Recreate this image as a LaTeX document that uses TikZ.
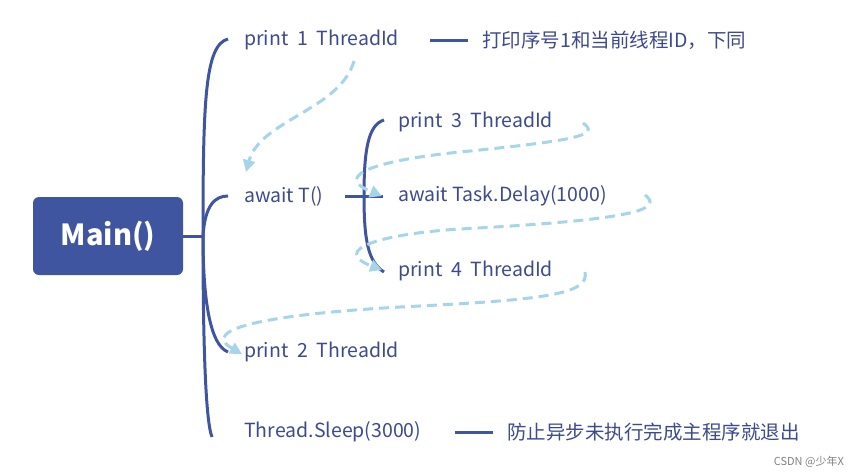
\documentclass[tikz,border=0pt]{standalone}
\usepackage{fontspec}
\setmainfont{Noto Sans CJK SC}
\usetikzlibrary{arrows.meta}
\definecolor{dk}{HTML}{3F55A0}
\definecolor{lb}{HTML}{A6D4EA}
\definecolor{tx}{HTML}{3D4A8C}
\begin{document}
\begin{tikzpicture}[x=1pt,y=-1pt,
  lbl/.style={anchor=west,inner sep=0pt,text=tx,font=\fontsize{19.5}{22}\selectfont},
  br/.style={draw=dk,line width=3pt},
  dsh/.style={draw=lb,line width=3pt,dash pattern=on 10pt off 6pt,-{Triangle[length=12pt,width=12pt]}}]
\useasboundingbox (0,0) rectangle (848,472);
\node[fill=dk,rounded corners=6pt,minimum width=150pt,minimum height=78pt,text=white,font=\fontsize{29}{32}\selectfont\bfseries] (main) at (108,236) {Main()};
\node[lbl] (p1) at (244,40) {print\ \ 1\ \ ThreadId};
\node[lbl] (aw) at (244,196) {await T()};
\node[lbl] (p2) at (244,352) {print\ \ 2\ \ ThreadId};
\node[lbl] (ts) at (244,432) {Thread.Sleep(3000)};
\node[lbl] (p3) at (398,122) {print\ \ 3\ \ ThreadId};
\node[lbl] (td) at (398,196) {await Task.Delay(1000)};
\node[lbl] (p4) at (398,271) {print\ \ 4\ \ ThreadId};
\node[lbl] (n1) at (482,40) {打印序号1和当前线程ID，下同};
\node[lbl] (n2) at (507,432) {防止异步未执行完成主程序就退出};
\coordinate (j) at (203,236);
\draw[br] (main.east) -- (j);
\draw[br] (j) .. controls (203,100) and (205,45) .. (228,39);
\draw[br] (j) .. controls (205,205) and (215,196) .. (228,196);
\draw[br] (j) .. controls (203,300) and (210,345) .. (228,352);
\draw[br] (j) .. controls (203,330) and (205,420) .. (212,437);
\coordinate (a1) at (430,40); \coordinate (a2) at (468,40);
\draw[br] (a1) -- (a2);
\coordinate (b1) at (455,432); \coordinate (b2) at (493,432);
\draw[br] (b1) -- (b2);
\coordinate (k) at (364,196);
\coordinate (k1) at (345,196); \coordinate (k2) at (383,196);
\draw[br] (k1) -- (k2);
\draw[br] (k) .. controls (364,150) and (368,125) .. (384,120);
\draw[br] (k) .. controls (364,240) and (368,262) .. (384,272);
\draw[dsh] (354,61) .. controls (340,110) and (260,120) .. (246,172);
\draw[dsh] (583,123) .. controls (600,135) and (580,140) .. (460,152) .. controls (380,160) and (330,175) .. (382,196);
\draw[dsh] (645,195) .. controls (665,210) and (630,220) .. (460,229) .. controls (380,234) and (330,250) .. (382,270);
\draw[dsh] (585,272) .. controls (590,295) and (540,300) .. (400,307) .. controls (260,315) and (200,330) .. (242,354);
\node[anchor=south east,font=\fontsize{11}{12}\selectfont,text=gray,inner sep=2pt] (wm) at (846,470) {CSDN @少年X};
\end{tikzpicture}
\end{document}
